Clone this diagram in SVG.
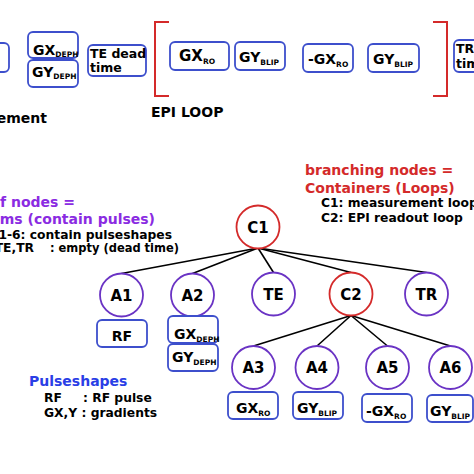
<svg xmlns="http://www.w3.org/2000/svg" width="474" height="474" viewBox="0 0 474 474">
<style>
text{font-family:"DejaVu Sans","Liberation Sans",sans-serif;font-weight:bold;fill:#000}
.box{fill:#fff;stroke:#3d4fcc;stroke-width:1.8}
.leaf{fill:#fff;stroke:#6a33c4;stroke-width:1.8}
.cont{fill:#fff;stroke:#d42a2a;stroke-width:1.8}
.bl{font-size:14px}
.sub{font-size:7.5px}
.nl{font-size:15px;text-anchor:middle}
.br{fill:none;stroke:#d42a2a;stroke-width:2}
.edge{stroke:#000;stroke-width:1.6;fill:none}
.red{fill:#d42a2a;font-size:14px}
.pur{fill:#8a2be2;font-size:14px}
.blu{fill:#2a3ee6;font-size:14px}
.sm{font-size:12.3px}
</style>

<!-- top sequence -->
<g id="seq-left"><rect class="box" x="-10" y="43" width="19" height="29" rx="5"/></g>
<g id="seq-gxdeph"><rect class="box" x="28" y="32" width="50" height="26" rx="5"/><text class="bl" x="33" y="54.5">GX<tspan class="sub" dy="2.5">DEPH</tspan></text></g>
<g id="seq-gydeph"><rect class="box" x="28" y="60" width="50" height="27" rx="5"/><text class="bl" x="32" y="76.5">GY<tspan class="sub" dy="2.5">DEPH</tspan></text></g>
<g id="seq-te"><rect class="box" x="88" y="45" width="58" height="31" rx="5"/><text x="90" y="57.5" style="font-size:12.5px">TE dead</text><text x="90" y="72" style="font-size:12.5px">time</text></g>
<path class="br" d="M169,22 H155 V96 H169"/>
<g id="seq-gxro"><rect class="box" x="170" y="42" width="59" height="28" rx="5"/><text class="bl" x="179" y="61" style="font-size:15px">GX<tspan class="sub" dy="3">RO</tspan></text></g>
<g id="seq-gyblip1"><rect class="box" x="235" y="42" width="50" height="28" rx="5"/><text class="bl" x="239" y="62">GY<tspan class="sub" dy="3">BLIP</tspan></text></g>
<g id="seq-mgxro"><rect class="box" x="303" y="44" width="50" height="28" rx="5"/><text class="bl" x="308" y="64">-GX<tspan class="sub" dy="3">RO</tspan></text></g>
<g id="seq-gyblip2"><rect class="box" x="368" y="44" width="51" height="28" rx="5"/><text class="bl" x="373" y="64">GY<tspan class="sub" dy="3">BLIP</tspan></text></g>
<path class="br" d="M433,22 H447 V96 H433"/>
<g id="seq-tr"><rect class="box" x="454" y="40" width="40" height="32" rx="5"/><text x="456" y="53" style="font-size:12.5px">TR dead</text><text x="456" y="68" style="font-size:12.5px">time</text></g>
<text x="47" y="123" text-anchor="end" style="font-size:14px">measurement</text>
<text x="151" y="117" style="font-size:14px">EPI LOOP</text>

<!-- legends -->
<text class="pur" x="75" y="207" text-anchor="end">leaf nodes =</text>
<text class="pur" x="155" y="224" text-anchor="end">Atoms (contain pulses)</text>
<text class="sm" x="172" y="239" text-anchor="end">A1-6: contain pulseshapes</text>
<text class="sm" x="34" y="252" text-anchor="end">TE,TR</text>
<text class="sm" x="50" y="252" textLength="129" lengthAdjust="spacingAndGlyphs">: empty (dead time)</text>

<text class="red" x="305" y="175">branching nodes =</text>
<text class="red" x="305" y="193">Containers (Loops)</text>
<text class="sm" x="321" y="207">C1: measurement loop</text>
<text class="sm" x="321" y="222">C2: EPI readout loop</text>

<text class="blu" x="29" y="386">Pulseshapes</text>
<text class="sm" x="44" y="402">RF</text>
<text class="sm" x="83" y="402">: RF pulse</text>
<text class="sm" x="44" y="417">GX,Y : gradients</text>

<!-- connectors -->
<g id="connectors">
<line class="edge" x1="258" y1="248" x2="121.5" y2="273.5"/>
<line class="edge" x1="258" y1="248" x2="192.5" y2="273.5"/>
<line class="edge" x1="258" y1="248" x2="273.5" y2="272.5"/>
<line class="edge" x1="258" y1="248" x2="351" y2="272.5"/>
<line class="edge" x1="258" y1="248" x2="426.5" y2="272.5"/>
<line class="edge" x1="351" y1="315.5" x2="253.5" y2="346"/>
<line class="edge" x1="351" y1="315.5" x2="317" y2="346"/>
<line class="edge" x1="351" y1="315.5" x2="387.5" y2="346"/>
<line class="edge" x1="351" y1="315.5" x2="450.5" y2="346"/>
</g>

<!-- tree nodes -->
<g id="C1"><circle class="cont" cx="258" cy="227" r="21.5"/><text class="nl" x="258" y="232.5">C1</text></g>
<g id="A1"><circle class="leaf" cx="121.5" cy="295" r="21.5"/><text class="nl" x="121.5" y="300.5">A1</text></g>
<g id="A2"><circle class="leaf" cx="192.5" cy="295" r="21.5"/><text class="nl" x="192.5" y="300.5">A2</text></g>
<g id="TE"><circle class="leaf" cx="273.5" cy="294" r="21.5"/><text class="nl" x="273.5" y="299.5">TE</text></g>
<g id="C2"><circle class="cont" cx="351" cy="294" r="21.5"/><text class="nl" x="351" y="299.5">C2</text></g>
<g id="TR"><circle class="leaf" cx="426.5" cy="294" r="21.5"/><text class="nl" x="426.5" y="299.5">TR</text></g>
<g id="A3"><circle class="leaf" cx="253.5" cy="367.5" r="21.5"/><text class="nl" x="253.5" y="373">A3</text></g>
<g id="A4"><circle class="leaf" cx="317" cy="367.5" r="21.5"/><text class="nl" x="317" y="373">A4</text></g>
<g id="A5"><circle class="leaf" cx="387.5" cy="367.5" r="21.5"/><text class="nl" x="387.5" y="373">A5</text></g>
<g id="A6"><circle class="leaf" cx="450.5" cy="367.5" r="21.5"/><text class="nl" x="450.5" y="373">A6</text></g>

<!-- pulse boxes -->
<g id="p-rf"><rect class="box" x="97" y="320" width="50" height="27" rx="5"/><text class="bl" x="122" y="341" text-anchor="middle">RF</text></g>
<g id="p-gxdeph"><rect class="box" x="168" y="316" width="50" height="27" rx="5"/><text class="bl" x="174" y="339">GX<tspan class="sub" dy="2.5">DEPH</tspan></text></g>
<g id="p-gydeph"><rect class="box" x="168" y="344" width="50" height="27" rx="5"/><text class="bl" x="172" y="362">GY<tspan class="sub" dy="2.5">DEPH</tspan></text></g>
<g id="p-gxro"><rect class="box" x="228" y="392" width="50" height="27" rx="5"/><text class="bl" x="236" y="413">GX<tspan class="sub" dy="3">RO</tspan></text></g>
<g id="p-gyblip1"><rect class="box" x="293" y="392" width="50" height="27" rx="5"/><text class="bl" x="297" y="413">GY<tspan class="sub" dy="3">BLIP</tspan></text></g>
<g id="p-mgxro"><rect class="box" x="362" y="394" width="50" height="28" rx="5"/><text class="bl" x="366" y="416">-GX<tspan class="sub" dy="3">RO</tspan></text></g>
<g id="p-gyblip2"><rect class="box" x="427" y="395" width="46" height="27" rx="5"/><text class="bl" x="430" y="416">GY<tspan class="sub" dy="3">BLIP</tspan></text></g>
</svg>
